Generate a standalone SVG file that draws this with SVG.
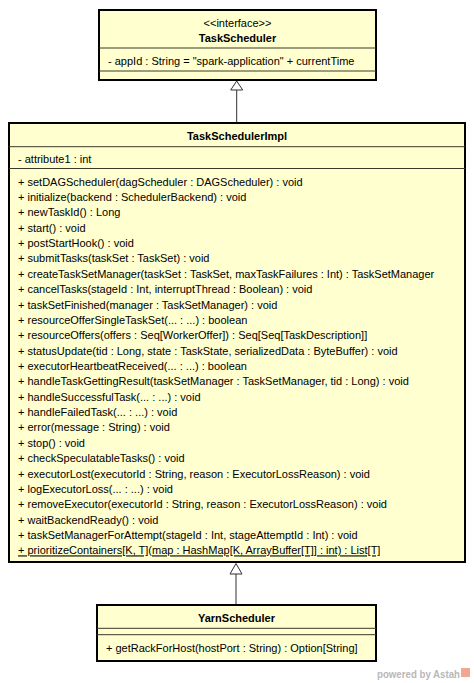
<svg xmlns="http://www.w3.org/2000/svg" width="474" height="683" viewBox="0 0 474 683">
<style>
.box{fill:#FFFFD0;stroke:#000;stroke-width:2}
.div{stroke:#3a3a2a;stroke-width:1}
text{font-family:"Liberation Sans",Arial,sans-serif;font-size:11px;fill:#000}
.t{font-weight:bold;text-anchor:middle}
.c{text-anchor:middle}
.conn{stroke:#333;stroke-width:1;fill:none}
.tri{fill:#fff;stroke:#333;stroke-width:1}
</style>
<rect width="474" height="683" fill="#fff"/>
<g id="connectors">
<line class="conn" x1="236.7" y1="90" x2="236.7" y2="122"/>
<polygon class="tri" points="236.7,81 230.7,90 242.7,90"/>
<line class="conn" x1="236" y1="574" x2="236" y2="604"/>
<polygon class="tri" points="236,563.5 230,574 242,574"/>
</g>
<g id="TaskScheduler">
<rect class="box" x="99" y="10" width="277" height="70"/>
<line class="div" x1="99" y1="48" x2="376" y2="48"/>
<line class="div" x1="99" y1="71" x2="376" y2="71"/>
<text class="c" x="237.5" y="27">&lt;&lt;interface&gt;&gt;</text>
<text class="t" x="237.5" y="41.5">TaskScheduler</text>
<text x="108" y="65">- appId : String = "spark-application" + currentTime</text>
</g>
<g id="TaskSchedulerImpl">
<rect class="box" x="9" y="123" width="456" height="439"/>
<line class="div" x1="9" y1="146.7" x2="465" y2="146.7"/>
<line class="div" x1="9" y1="168.5" x2="465" y2="168.5"/>
<text class="t" x="237" y="139.5">TaskSchedulerImpl</text>
<text x="18" y="163">- attribute1 : int</text>
<text x="18" y="185.5">+ setDAGScheduler(dagScheduler : DAGScheduler) : void</text>
<text x="18" y="200.9">+ initialize(backend : SchedulerBackend) : void</text>
<text x="18" y="216.2">+ newTaskId() : Long</text>
<text x="18" y="231.6">+ start() : void</text>
<text x="18" y="247">+ postStartHook() : void</text>
<text x="18" y="262.4">+ submitTasks(taskSet : TaskSet) : void</text>
<text x="18" y="277.7">+ createTaskSetManager(taskSet : TaskSet, maxTaskFailures : Int) : TaskSetManager</text>
<text x="18" y="293.1">+ cancelTasks(stageId : Int, interruptThread : Boolean) : void</text>
<text x="18" y="308.5">+ taskSetFinished(manager : TaskSetManager) : void</text>
<text x="18" y="323.8">+ resourceOfferSingleTaskSet(... : ...) : boolean</text>
<text x="18" y="339.2">+ resourceOffers(offers : Seq[WorkerOffer]) : Seq[Seq[TaskDescription]]</text>
<text x="18" y="354.6">+ statusUpdate(tid : Long, state : TaskState, serializedData : ByteBuffer) : void</text>
<text x="18" y="369.9">+ executorHeartbeatReceived(... : ...) : boolean</text>
<text x="18" y="385.3">+ handleTaskGettingResult(taskSetManager : TaskSetManager, tid : Long) : void</text>
<text x="18" y="400.7">+ handleSuccessfulTask(... : ...) : void</text>
<text x="18" y="416.1">+ handleFailedTask(... : ...) : void</text>
<text x="18" y="431.4">+ error(message : String) : void</text>
<text x="18" y="446.8">+ stop() : void</text>
<text x="18" y="462.2">+ checkSpeculatableTasks() : void</text>
<text x="18" y="477.5">+ executorLost(executorId : String, reason : ExecutorLossReason) : void</text>
<text x="18" y="492.9">+ logExecutorLoss(... : ...) : void</text>
<text x="18" y="508.3">+ removeExecutor(executorId : String, reason : ExecutorLossReason) : void</text>
<text x="18" y="523.6">+ waitBackendReady() : void</text>
<text x="18" y="539">+ taskSetManagerForAttempt(stageId : Int, stageAttemptId : Int) : void</text>
<text x="18" y="554.4" text-decoration="underline">+ prioritizeContainers[K, T](map : HashMap[K, ArrayBuffer[T]] : int) : List[T]</text>
</g>
<g id="YarnScheduler">
<rect class="box" x="97" y="605" width="279" height="56"/>
<line class="div" x1="97" y1="628.3" x2="376" y2="628.3"/>
<line class="div" x1="97" y1="634.7" x2="376" y2="634.7"/>
<text class="t" x="236.5" y="621.5">YarnScheduler</text>
<text x="106" y="652">+ getRackForHost(hostPort : String) : Option[String]</text>
</g>
<g id="watermark">
<text x="377" y="677.5" textLength="83" lengthAdjust="spacingAndGlyphs" style="font-size:10.5px;font-weight:bold;fill:#b8b8b8">powered by Astah</text>
<rect x="461" y="668" width="9" height="9" fill="#f0a890"/>
</g>
</svg>
